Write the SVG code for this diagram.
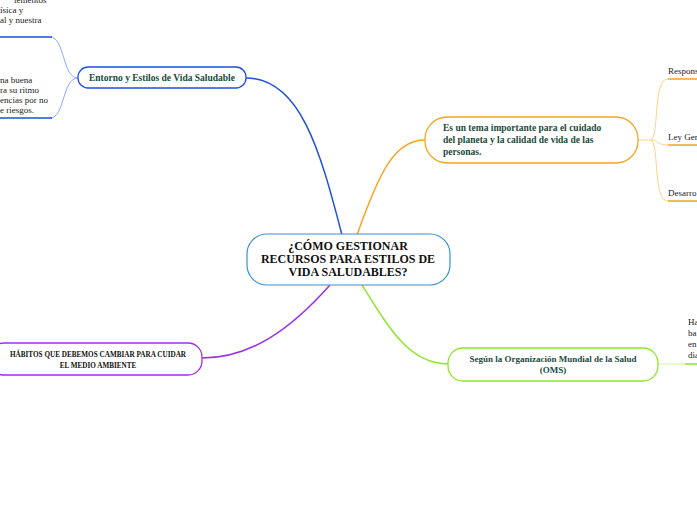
<svg xmlns="http://www.w3.org/2000/svg" width="697" height="520" viewBox="0 0 697 520">
<style>
text{font-family:"Liberation Serif","DejaVu Serif",serif;font-weight:bold;fill:#1a4a3a;font-size:9.5px}
.n{font-weight:normal;fill:#222;font-size:9px}
.c{fill:none;stroke-width:1.5}
.t{fill:none;stroke-width:1}
</style>
<rect width="697" height="520" fill="#fff"/>
<g id="connectors">
<path class="c" stroke="#1f4fe0" d="M342 235 C320 150 300 78 246 78"/>
<path class="c" stroke="#f5a623" d="M357 235 C380 170 395 140 425 140"/>
<path class="c" stroke="#9b2ff0" d="M330 285 C290 330 250 358 202 358"/>
<path class="c" stroke="#8ee62a" d="M362 285 C390 330 410 364 448 364"/>
<path class="t" stroke="#8aa8f5" d="M78 78 C62 78 65 37 50 37 M78 78 C62 78 65 118 50 118"/>
<path class="c" stroke="#1f4fe0" d="M0 37 H52 M0 118 H52"/>
<path class="t" stroke="#fcd38a" d="M638 140 H650 C660 140 652 79 668 79 M650 140 C660 140 655 145 668 145 M650 140 C660 140 652 201 668 201"/>
<path class="c" stroke="#f5a623" d="M668 79 H697 M668 145 H697 M668 201 H697"/>
<path class="t" stroke="#c8f59a" d="M658 364 C675 364 672 364 685 364"/>
<path class="c" stroke="#8ee62a" d="M685 364 H697"/>
</g>
<g id="root"><rect x="247" y="234" width="203" height="51" rx="20" fill="#fff" stroke="#3a8ed8" stroke-width="1.2"/>
<text x="348" y="250" text-anchor="middle" style="fill:#111;font-size:12px"><tspan x="348">¿CÓMO GESTIONAR</tspan><tspan x="348" dy="13">RECURSOS PARA ESTILOS DE</tspan><tspan x="348" dy="13">VIDA SALUDABLES?</tspan></text></g>
<g id="entorno"><rect x="78" y="67" width="168" height="21" rx="10" fill="#fff" stroke="#1f4fe0" stroke-width="1.3"/>
<text x="162" y="81" text-anchor="middle">Entorno y Estilos de Vida Saludable</text></g>
<g id="tema"><rect x="425" y="117" width="213" height="46" rx="22" fill="#fff" stroke="#f5a623" stroke-width="1.3"/>
<text x="443" y="131"><tspan x="443">Es un tema importante para el cuidado</tspan><tspan x="443" dy="12">del planeta y la calidad de vida de las</tspan><tspan x="443" dy="12">personas.</tspan></text></g>
<g id="habitos"><rect x="-10" y="343" width="212" height="32" rx="14" fill="#fff" stroke="#9b2ff0" stroke-width="1.3"/>
<text x="98" y="357" text-anchor="middle" style="font-size:7.2px;fill:#111"><tspan x="98">HÁBITOS QUE DEBEMOS CAMBIAR PARA CUIDAR</tspan><tspan x="98" dy="11">EL MEDIO AMBIENTE</tspan></text></g>
<g id="oms"><rect x="448" y="348" width="210" height="33" rx="15" fill="#fff" stroke="#8ee62a" stroke-width="1.3"/>
<text x="553" y="362" text-anchor="middle" style="font-size:9px"><tspan x="553">Según la Organización Mundial de la Salud</tspan><tspan x="553" dy="11">(OMS)</tspan></text></g>
<g id="leaves">
<text class="n" x="0" y="3"><tspan x="14">lementos</tspan><tspan x="0" dy="10">ísica y</tspan><tspan x="0" dy="10">al y nuestra</tspan></text>
<text class="n" x="0" y="83"><tspan x="0">na buena</tspan><tspan x="0" dy="10">ra su ritmo</tspan><tspan x="0" dy="10">encias por no</tspan><tspan x="0" dy="10">e riesgos.</tspan></text>
<text class="n" x="668" y="74">Respons</text>
<text class="n" x="668" y="140">Ley Gen</text>
<text class="n" x="668" y="196">Desarro</text>
<text class="n" x="688" y="325"><tspan x="688">Ha</tspan><tspan x="688" dy="11">ba</tspan><tspan x="688" dy="11">en</tspan><tspan x="688" dy="11">dia</tspan></text>
</g>
</svg>
